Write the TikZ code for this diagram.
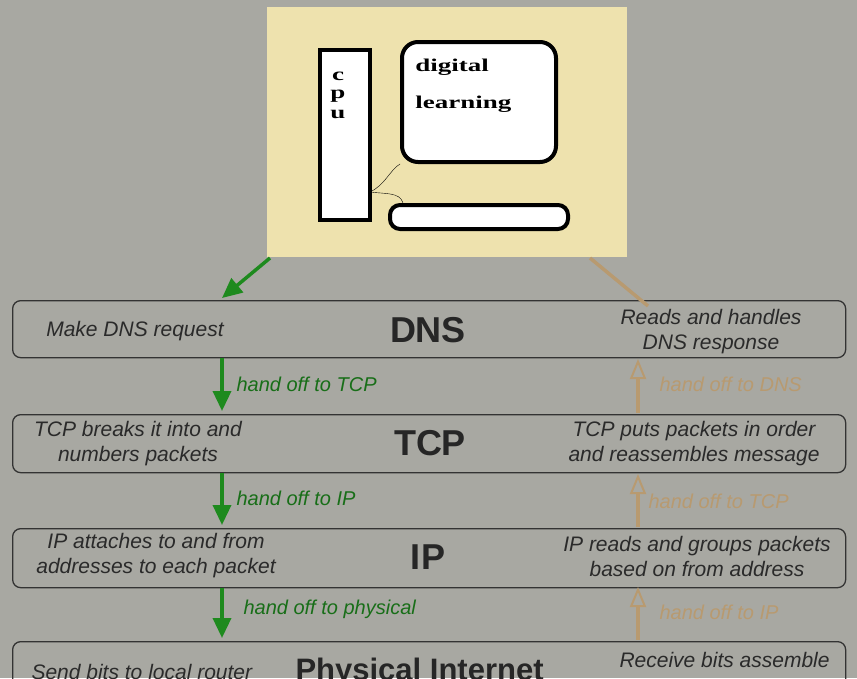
\documentclass[tikz,border=0pt]{standalone}
\usepackage{fontspec}
\setmainfont{Liberation Sans}
\newfontfamily\serifb{Liberation Serif}
\usetikzlibrary{arrows.meta}
\definecolor{bg}{HTML}{A8A8A2}
\definecolor{panel}{HTML}{EEE2AE}
\definecolor{grn}{HTML}{1E8A1E}
\definecolor{brn}{HTML}{B89A70}
\definecolor{txt}{HTML}{2A2A2A}
\tikzset{
 layer/.style={draw=black!80,line width=1.3pt,rounded corners=8pt},
 desc/.style={font=\fontsize{21}{25}\selectfont\itshape,text=txt,align=center},
 big/.style={font=\fontsize{36}{40}\selectfont\bfseries,text=black!85},
 down/.style={grn,line width=3.5pt,-{Triangle[length=20pt,width=18pt]}},
 up/.style={brn,line width=3.5pt,-{Triangle[open,length=20pt,width=16pt,line width=2pt]}},
 gl/.style={font=\fontsize{20}{22}\selectfont\itshape,text=grn!80!black,anchor=west},
 bl/.style={font=\fontsize{20}{22}\selectfont\itshape,text=brn,anchor=west},
 thick4/.style={line width=4pt,fill=white},
 pcfont/.style={font=\serifb\bfseries\fontsize{18}{18}\selectfont,xscale=1.5}
}
\begin{document}
\begin{tikzpicture}[x=1pt,y=-1pt]
\useasboundingbox (0,0) rectangle (857,678);
\clip (0,0) rectangle (857,678);
\fill[bg] (0,0) rectangle (857,678);
% panel
\node[fill=panel,minimum width=360pt,minimum height=250pt,inner sep=0,anchor=north west] (panel) at (267,7) {};
\node[thick4,draw,minimum width=50pt,minimum height=170pt,inner sep=0,anchor=north west] (cpu) at (318,48) {};
\node[pcfont] (c1) at (338,76) {c};
\node[pcfont] (c2) at (338,96) {p};
\node[pcfont] (c3) at (338,114) {u};
\node[thick4,draw,rounded corners=16pt,minimum width=154pt,minimum height=120pt,inner sep=0,anchor=north west] (mon) at (400,40) {};
\node[pcfont,anchor=west] (d1) at (410,67) {digital};
\node[pcfont,anchor=west] (d2) at (410,104) {learning};
\node[thick4,draw,rounded corners=10pt,minimum width=178pt,minimum height=24pt,inner sep=0,anchor=north west] (kb) at (388,203) {};
\coordinate (w) at (370,192);
\draw[thin] (w) .. controls (385,185) and (390,170) .. (mon.south west);
\draw[thin] (w) .. controls (385,194) and (400,192) .. (403,203);
% layers
\node[layer,minimum width=833pt,minimum height=57pt,inner sep=0,anchor=north west] (dns) at (12,300) {};
\node[layer,minimum width=833pt,minimum height=58pt,inner sep=0,anchor=north west] (tcp) at (12,414) {};
\node[layer,minimum width=833pt,minimum height=59pt,inner sep=0,anchor=north west] (ip) at (12,528) {};
\node[layer,minimum width=833pt,minimum height=70pt,inner sep=0,anchor=north west] (phy) at (12,641) {};
\node[desc] (dnsL) at (135,331) {Make DNS request};
\node[big] (dnsB) at (428,330) {DNS};
\node[desc] (dnsR) at (711,332) {Reads and handles\\DNS response};
\node[desc] (tcpL) at (138,444) {TCP breaks it into and\\numbers packets};
\node[big] (tcpB) at (430,443) {TCP};
\node[desc] (tcpR) at (694,444) {TCP puts packets in order\\and reassembles message};
\node[desc] (ipL) at (156,556) {IP attaches to and from\\addresses to each packet};
\node[big] (ipB) at (428,557) {IP};
\node[desc] (ipR) at (697,556) {IP reads and groups packets\\based on from address};
\node[desc,anchor=west] (phL) at (28,672) {Send bits to local router};
\node[big,font=\fontsize{31}{34}\selectfont\bfseries,anchor=west] (phB) at (292,672) {Physical Internet};
\node[desc,anchor=west] (phR) at (616,660) {Receive bits assemble};
% connectors
\coordinate (gs) at (270,258);
\coordinate (gt) at (222,298);
\draw[down] (gs) -- (gt);
\coordinate (bs) at (590,258);
\coordinate (bt) at (648,306);
\draw[brn,line width=3.5pt] (bs) -- (bt);
\draw[down] (222,358) -- (222,411);
\draw[down] (222,473) -- (222,525);
\draw[down] (222,588) -- (222,638);
\draw[up] (638,413) -- (638,359);
\draw[up] (638,527) -- (638,474);
\draw[up] (638,640) -- (638,587);
\node[gl] (g1) at (233,384) {hand off to TCP};
\node[gl] (g2) at (233,498) {hand off to IP};
\node[gl] (g3) at (240,609) {hand off to physical};
\node[bl] (b1) at (656,384) {hand off to DNS};
\node[bl] (b2) at (645,501) {hand off to TCP};
\node[bl] (b3) at (656,612) {hand off to IP};
\end{tikzpicture}
\end{document}
